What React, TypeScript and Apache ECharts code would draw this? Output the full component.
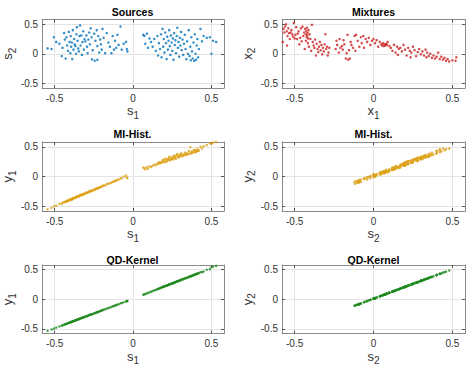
import React, { useEffect, useRef } from "react";
import * as echarts from "echarts";

// ---- Sources (s1, s2): left cluster then right cluster ----
const sourcesLeft: number[][] = [
  [-0.545, 0.09], [-0.52, 0.08], [-0.505, 0.28], [-0.49, 0.2], [-0.47, 0.17], [-0.455, -0.04], [-0.45, 0.1], [-0.44, 0.35],
  [-0.435, 0.24], [-0.43, -0.08], [-0.425, 0.28], [-0.42, 0.14], [-0.415, 0.05], [-0.41, 0.37], [-0.405, 0.2], [-0.4, 0.01],
  [-0.398, 0.3], [-0.395, 0.12], [-0.39, 0.19], [-0.388, -0.09], [-0.384, 0.4], [-0.38, 0.07], [-0.376, 0.25], [-0.372, 0.16],
  [-0.368, 0.13], [-0.364, 0], [-0.362, 0.33], [-0.358, 0.45], [-0.354, 0.22], [-0.35, 0.09], [-0.346, 0.04], [-0.342, 0.3],
  [-0.338, 0.48], [-0.335, 0.14], [-0.33, 0.31], [-0.326, -0.02], [-0.322, 0.2], [-0.318, 0.38], [-0.314, 0.07], [-0.31, 0.25],
  [-0.304, 0.21], [-0.298, 0.31], [-0.294, 0.12], [-0.29, 0.01], [-0.285, 0.24], [-0.28, 0.36], [-0.275, 0.16], [-0.27, 0.43],
  [-0.265, 0.28], [-0.258, 0.06], [-0.262, -0.095], [-0.248, 0.34], [-0.245, -0.118], [-0.24, 0.22], [-0.228, -0.102], [-0.232, 0.4],
  [-0.228, 0.13], [-0.222, 0.3], [-0.216, 0.02], [-0.21, 0.24], [-0.205, 0.16], [-0.2, 0.07], [-0.195, 0.42], [-0.188, 0.27],
  [-0.178, 0.01], [-0.168, 0.35], [-0.158, 0.19], [-0.148, 0.12], [-0.138, 0.01], [-0.13, 0.3], [-0.122, 0.07], [-0.115, 0.22],
  [-0.108, 0.1], [-0.1, 0.32], [-0.092, 0.15], [-0.08, 0.46], [-0.072, 0.07], [-0.06, 0.17], [-0.045, 0.2], [-0.04, 0.08],
  [-0.036, 0.04],
];
const sourcesRight: number[][] = [
  [0.065, 0.32], [0.072, 0.3], [0.078, 0.17], [0.088, 0.34], [0.095, 0.1], [0.105, 0.26], [0.115, 0.2], [0.125, 0.12],
  [0.135, 0.25], [0.145, 0.05], [0.155, 0.3], [0.16, -0.03], [0.165, 0.18], [0.172, 0.08], [0.178, 0.33], [0.182, -0.06],
  [0.188, 0.42], [0.192, 0.12], [0.196, 0.25], [0.2, 0.02], [0.205, 0.36], [0.21, 0.18], [0.214, -0.09], [0.218, 0.29],
  [0.222, 0.07], [0.226, 0.22], [0.23, 0.4], [0.234, 0.13], [0.238, -0.02], [0.242, 0.31], [0.246, 0.19], [0.25, 0.05],
  [0.254, 0.26], [0.258, -0.1], [0.262, 0.35], [0.266, 0.15], [0.27, 0.23], [0.274, 0.01], [0.278, 0.3], [0.282, 0.44],
  [0.286, 0.1], [0.29, 0.2], [0.294, -0.05], [0.298, 0.27], [0.302, 0.14], [0.306, 0.37], [0.31, 0.06], [0.315, 0.24],
  [0.32, -0.02], [0.325, 0.17], [0.33, 0.32], [0.335, 0.08], [0.34, -0.09], [0.345, 0.21], [0.35, 0.0], [0.355, 0.4],
  [0.36, -0.04], [0.365, 0.12], [0.368, -0.11], [0.372, 0.28], [0.376, 0.04], [0.38, -0.08], [0.385, 0.19], [0.39, -0.12],
  [0.394, 0.33], [0.398, 0.0], [0.402, -0.1], [0.406, 0.14], [0.41, 0.25], [0.415, -0.06], [0.42, 0.08], [0.43, 0.42],
  [0.44, 0.21], [0.45, 0.3], [0.47, 0.27], [0.49, 0.28], [0.51, 0.22], [0.53, 0.2], [0.5, 0.0],
];

// ---- Mixtures (x1, x2) ----
const mixtures: number[][] = [
  [-0.575, 0.2], [-0.57, 0.42], [-0.565, 0.36], [-0.56, 0.46], [-0.555, 0.5], [-0.55, 0.38], [-0.548, 0.14], [-0.545, 0.3],
  [-0.54, 0.43], [-0.535, 0.35], [-0.53, 0.25], [-0.525, 0.36], [-0.52, 0.4], [-0.515, 0.33], [-0.51, 0.29], [-0.505, 0.52],
  [-0.5, 0.26], [-0.495, 0.32], [-0.49, 0.45], [-0.485, 0.25], [-0.48, 0.34], [-0.475, 0.38], [-0.47, 0.16], [-0.465, 0.27],
  [-0.46, 0.43], [-0.455, 0.21], [-0.45, 0.46], [-0.445, 0.3], [-0.44, 0.36], [-0.436, 0.08], [-0.433, 0.42], [-0.43, 0.33],
  [-0.428, 0.22], [-0.426, 0.38], [-0.424, 0.28], [-0.422, 0.44], [-0.42, 0.31], [-0.418, 0.35], [-0.416, 0.18], [-0.414, 0.26],
  [-0.412, 0.4], [-0.41, 0.12], [-0.405, 0.33], [-0.4, 0.25], [-0.395, 0.05], [-0.39, 0.49], [-0.385, 0.2], [-0.38, 0.14],
  [-0.375, 0.1], [-0.37, 0.24], [-0.365, -0.03], [-0.36, 0.17], [-0.355, 0.08], [-0.35, 0.03], [-0.345, 0.12], [-0.34, 0.2],
  [-0.335, 0.06], [-0.33, 0.15], [-0.325, -0.01], [-0.32, 0.1], [-0.315, 0.04], [-0.31, 0.16], [-0.305, 0.33], [-0.3, 0.08],
  [-0.295, 0.12], [-0.29, -0.03], [-0.285, 0.02], [-0.28, 0.1],
  [-0.24, 0.08], [-0.235, 0.22], [-0.23, 0.15], [-0.22, 0.02], [-0.215, 0.25], [-0.21, 0.1], [-0.2, 0.13], [-0.195, 0.07],
  [-0.19, 0.23], [-0.185, 0.16], [-0.175, -0.08], [-0.17, 0.01], [-0.165, 0.32], [-0.16, -0.1], [-0.155, 0.06], [-0.15, -0.08],
  [-0.145, 0.2], [-0.14, 0.15], [-0.13, 0.1], [-0.12, 0.3], [-0.115, 0.05], [-0.11, 0.32], [-0.1, 0.22], [-0.09, 0.12],
  [-0.08, 0.28], [-0.075, 0.18], [-0.065, 0.3], [-0.06, 0.1], [-0.05, 0.25], [-0.04, 0.2], [-0.03, 0.27], [-0.02, 0.15],
  [-0.01, 0.22], [0, 0.25], [0.01, 0.18], [0.02, 0.23], [0.03, 0.12], [0.04, 0.2], [0.05, 0.16], [0.055, 0.14],
  [0.06, 0.18], [0.065, 0.13], [0.07, 0.16], [0.075, 0.14], [0.08, 0.17], [0.085, 0.15], [0.09, 0.2], [0.1, 0.13],
  [0.11, 0.1], [0.12, 0.05], [0.13, 0.15], [0.14, 0.02], [0.15, 0.12], [0.155, -0.02], [0.16, 0.08], [0.17, 0.1],
  [0.18, 0.04], [0.19, 0.15], [0.2, 0.07], [0.21, -0.03], [0.22, 0.1], [0.23, 0.05], [0.235, -0.06], [0.24, 0.02],
  [0.25, 0.12], [0.26, 0.06], [0.27, -0.04], [0.28, 0.03], [0.29, 0.08], [0.3, -0.01], [0.31, 0.04], [0.32, -0.03],
  [0.33, 0.07], [0.335, -0.06], [0.34, 0.02], [0.35, -0.04], [0.36, 0.0], [0.37, -0.07], [0.38, -0.03], [0.39, -0.08],
  [0.4, -0.05], [0.41, 0.02], [0.42, -0.09], [0.43, -0.05], [0.44, -0.1], [0.45, -0.07], [0.46, -0.12], [0.47, -0.09],
  [0.48, -0.13], [0.5, -0.11], [0.52, -0.12], [0.525, -0.06],
];

// ---- Estimates, index-matched to sources (left cluster then right cluster) ----
const y1MI: number[] = [
  -0.55, -0.53, -0.5, -0.49, -0.46, -0.46, -0.44, -0.43, -0.43, -0.425, -0.41, -0.415, -0.41, -0.39, -0.4, -0.395,
  -0.38, -0.385, -0.38, -0.385, -0.36, -0.37, -0.36, -0.36, -0.355, -0.355, -0.34, -0.335, -0.34, -0.335, -0.335, -0.32,
  -0.31, -0.32, -0.305, -0.315, -0.305, -0.29, -0.3, -0.29, -0.285, -0.27, -0.275, -0.275, -0.26, -0.25, -0.255, -0.235,
  -0.24, -0.237, -0.245, -0.215, -0.228, -0.212, -0.205, -0.195, -0.2, -0.19, -0.192, -0.178, -0.176, -0.172, -0.155, -0.153,
  -0.15, -0.128, -0.123, -0.114, -0.106, -0.088, -0.086, -0.074, -0.07, -0.055, -0.05, -0.03, -0.03, 0.0, 0.015, -0.02,
  -0.025,
  0.15, 0.14, 0.12, 0.16, 0.13, 0.17, 0.16, 0.18, 0.2, 0.19, 0.22, 0.21, 0.24, 0.22, 0.24, 0.23,
  0.27, 0.25, 0.28, 0.24, 0.3, 0.26, 0.25, 0.29, 0.28, 0.3, 0.33, 0.27, 0.28, 0.32, 0.3, 0.29,
  0.33, 0.29, 0.35, 0.31, 0.34, 0.3, 0.36, 0.38, 0.33, 0.34, 0.32, 0.37, 0.35, 0.39, 0.34, 0.37,
  0.35, 0.36, 0.4, 0.37, 0.36, 0.39, 0.38, 0.43, 0.38, 0.49, 0.39, 0.42, 0.4, 0.4, 0.44, 0.41,
  0.45, 0.42, 0.41, 0.43, 0.46, 0.43, 0.44, 0.5, 0.47, 0.51, 0.53, 0.56, 0.57, 0.58, 0.55,
];
const y2MI: number[] = [
  0.07, 0.07, 0.26, 0.19, 0.15, -0.05, 0.09, 0.33, 0.23, -0.09, 0.27, 0.13, 0.04, 0.36, 0.185, 0.0,
  0.29, 0.11, 0.18, -0.1, 0.39, 0.06, 0.24, 0.15, 0.12, -0.01, 0.32, 0.44, 0.21, 0.08, 0.03, 0.29,
  0.47, 0.13, 0.3, -0.03, 0.19, 0.37, 0.06, 0.24, 0.2, 0.3, 0.11, 0.0, 0.23, 0.35, 0.15, 0.42,
  0.27, 0.05, -0.1, 0.33, -0.12, 0.21, -0.11, 0.39, 0.12, 0.29, 0.02, 0.23, 0.15, 0.07, 0.41, 0.26,
  0.01, 0.34, 0.19, 0.12, 0.01, 0.3, 0.07, 0.22, 0.1, 0.32, 0.15, 0.46, 0.07, 0.17, 0.2, 0.08,
  0.05,
  0.33, 0.31, 0.18, 0.35, 0.11, 0.28, 0.22, 0.14, 0.27, 0.07, 0.32, -0.01, 0.2, 0.1, 0.35, -0.04,
  0.44, 0.14, 0.28, 0.04, 0.38, 0.2, -0.07, 0.31, 0.09, 0.25, 0.43, 0.15, 0.0, 0.34, 0.22, 0.07,
  0.29, -0.08, 0.38, 0.17, 0.26, 0.03, 0.33, 0.47, 0.12, 0.23, -0.03, 0.3, 0.17, 0.4, 0.09, 0.27,
  0.01, 0.2, 0.35, 0.11, -0.06, 0.24, 0.03, 0.43, -0.01, 0.15, -0.08, 0.31, 0.07, -0.05, 0.22, -0.09,
  0.36, 0.03, -0.07, 0.17, 0.28, -0.03, 0.11, 0.46, 0.25, 0.33, 0.3, 0.32, 0.26, 0.24, 0.04,
];
const y1QD: number[] = [
  -0.535, -0.512, -0.497, -0.48, -0.462, -0.447, -0.44, -0.43, -0.424, -0.422, -0.415, -0.41, -0.405, -0.398, -0.396, -0.392,
  -0.386, -0.386, -0.38, -0.38, -0.372, -0.371, -0.365, -0.363, -0.358, -0.356, -0.35, -0.345, -0.344, -0.341, -0.338, -0.33,
  -0.325, -0.326, -0.318, -0.318, -0.312, -0.305, -0.305, -0.299, -0.294, -0.287, -0.285, -0.283, -0.274, -0.267, -0.266, -0.257,
  -0.255, -0.25, -0.252, -0.237, -0.238, -0.23, -0.222, -0.22, -0.219, -0.211, -0.208, -0.2, -0.196, -0.192, -0.183, -0.177,
  -0.17, -0.157, -0.149, -0.14, -0.131, -0.12, -0.114, -0.105, -0.1, -0.09, -0.084, -0.069, -0.064, -0.051, -0.036, -0.033,
  -0.028,
  0.077, 0.084, 0.088, 0.102, 0.106, 0.119, 0.128, 0.138, 0.151, 0.158, 0.172, 0.172, 0.182, 0.187, 0.197, 0.196,
  0.21, 0.209, 0.215, 0.214, 0.226, 0.227, 0.228, 0.238, 0.238, 0.245, 0.252, 0.252, 0.254, 0.263, 0.265, 0.267,
  0.275, 0.273, 0.285, 0.285, 0.291, 0.292, 0.3, 0.306, 0.305, 0.312, 0.311, 0.321, 0.323, 0.331, 0.329, 0.338,
  0.337, 0.347, 0.355, 0.356, 0.358, 0.369, 0.369, 0.381, 0.379, 0.388, 0.386, 0.398, 0.397, 0.4, 0.41, 0.409,
  0.422, 0.42, 0.423, 0.43, 0.437, 0.436, 0.445, 0.458, 0.46, 0.47, 0.5, 0.51, 0.55, 0.565, 0.545,
];
const y2QD: number[] = [
  0.1, 0.088, 0.29, 0.207, 0.178, -0.032, 0.108, 0.358, 0.249, -0.072, 0.287, 0.149, 0.058, 0.378, 0.208, 0.018,
  0.31, 0.128, 0.2, -0.083, 0.408, 0.079, 0.258, 0.169, 0.139, 0.008, 0.339, 0.458, 0.229, 0.099, 0.048, 0.31,
  0.487, 0.148, 0.319, -0.012, 0.209, 0.39, 0.078, 0.259, 0.219, 0.318, 0.128, 0.018, 0.249, 0.368, 0.168, 0.438,
  0.289, 0.069, -0.087, 0.348, -0.108, 0.229, -0.093, 0.409, 0.139, 0.309, 0.028, 0.249, 0.169, 0.079, 0.428, 0.279,
  0.019, 0.358, 0.199, 0.129, 0.019, 0.309, 0.079, 0.229, 0.109, 0.329, 0.159, 0.468, 0.079, 0.179, 0.21, 0.089,
  0.049,
  0.331, 0.311, 0.181, 0.35, 0.111, 0.271, 0.21, 0.131, 0.262, 0.061, 0.311, -0.019, 0.191, 0.091, 0.342, -0.049,
  0.432, 0.131, 0.262, 0.031, 0.372, 0.19, -0.079, 0.301, 0.081, 0.231, 0.412, 0.142, -0.008, 0.321, 0.201, 0.061,
  0.272, -0.089, 0.362, 0.162, 0.241, 0.021, 0.312, 0.452, 0.111, 0.211, -0.039, 0.281, 0.152, 0.382, 0.071, 0.251,
  -0.009, 0.181, 0.332, 0.092, -0.079, 0.221, 0.011, 0.412, -0.029, 0.131, -0.099, 0.291, 0.051, -0.069, 0.201, -0.109,
  0.342, 0.012, -0.089, 0.151, 0.261, -0.049, 0.091, 0.432, 0.221, 0.311, 0.281, 0.292, 0.231, 0.211, 0.012,
];

const tickValues: number[] = [-0.5, 0, 0.5];
const titles: string[] = ["Sources", "Mixtures", "MI-Hist.", "MI-Hist.", "QD-Kernel", "QD-Kernel"];
const xNames: string[][] = [["s", "1"], ["x", "1"], ["s", "1"], ["s", "2"], ["s", "1"], ["s", "2"]];
const yNames: string[][] = [["s", "2"], ["x", "2"], ["y", "1"], ["y", "2"], ["y", "1"], ["y", "2"]];
const colors: string[] = ["#0072BD", "#CC1F1F", "#DDA015", "#DDA015", "#1E8A1E", "#1E8A1E"];

const FONT = "'Liberation Sans', Arial, Helvetica, sans-serif";
const LIM = 0.58;
const COL_LEFT = [41, 282];
const COL_W = 183;
const ROWS = [
  { top: 19.5, h: 68.5, titleY: 12 },
  { top: 142, h: 69, titleY: 133.5 },
  { top: 265, h: 68.5, titleY: 260 },
];
const BOX = "#8a8a8a";
const GRIDC = "#e4e4e4";
const TXT = "#333333";

export default function App() {
  const ref = useRef<HTMLDivElement>(null);
  useEffect(() => {
    if (!ref.current) return;
    const chart = echarts.init(ref.current, null, { renderer: "svg" });
    const srcAll = [...sourcesLeft, ...sourcesRight];
    const s1 = srcAll.map((p) => p[0]);
    const s2 = srcAll.map((p) => p[1]);
    const datasets: number[][][] = [
      srcAll,
      mixtures,
      s1.map((v, i) => [v, y1MI[i]]),
      s2.map((v, i) => [v, y2MI[i]]),
      s1.map((v, i) => [v, y1QD[i]]),
      s2.map((v, i) => [v, y2QD[i]]),
    ];
    const grids: any[] = [];
    const xAxes: any[] = [];
    const yAxes: any[] = [];
    const series: any[] = [];
    const graphics: any[] = [];
    const rich = {
      b: { fontSize: 13, fontFamily: FONT, color: TXT },
      s: { fontSize: 10, fontFamily: FONT, color: TXT, padding: [9, 0, 0, 0] },
    };
    for (let i = 0; i < 6; i++) {
      const r = ROWS[Math.floor(i / 2)];
      const left = COL_LEFT[i % 2];
      grids.push({ left, top: r.top, width: COL_W, height: r.h, show: false });
      const common = {
        type: "value",
        gridIndex: i,
        min: -LIM,
        max: LIM,
        axisLine: { show: true, onZero: false, lineStyle: { color: BOX, width: 1 } },
        axisTick: { show: true, inside: true, length: 3, customValues: tickValues, lineStyle: { color: "#555", width: 1 } },
      };
      xAxes.push({
        ...common,
        position: "bottom",
        axisLabel: { show: true, customValues: tickValues, color: TXT, fontSize: 10, fontFamily: FONT, margin: 5 },
        splitLine: { show: true, lineStyle: { color: GRIDC, width: 1 } },
        name: `{b|${xNames[i][0]}}{s|${xNames[i][1]}}`,
        nameLocation: "middle",
        nameGap: 13,
        nameTextStyle: { rich },
      });
      xAxes.push({ ...common, position: "top", axisLabel: { show: false }, splitLine: { show: false } });
      yAxes.push({
        ...common,
        position: "left",
        axisLabel: { show: true, customValues: tickValues, color: TXT, fontSize: 10, fontFamily: FONT, margin: 4 },
        splitLine: { show: true, lineStyle: { color: GRIDC, width: 1 } },
        name: `{b|${yNames[i][0]}}{s|${yNames[i][1]}}`,
        nameLocation: "middle",
        nameRotate: 90,
        nameGap: 23,
        nameTextStyle: { rich },
      });
      yAxes.push({ ...common, position: "right", axisLabel: { show: false }, splitLine: { show: false } });
      series.push({
        type: "scatter",
        xAxisIndex: 2 * i,
        yAxisIndex: 2 * i,
        data: datasets[i],
        symbol: "circle",
        symbolSize: 2.5,
        itemStyle: { color: colors[i] },
        silent: true,
      });
      graphics.push({
        type: "text",
        x: left + COL_W / 2,
        y: r.titleY,
        style: {
          text: titles[i],
          align: "center",
          verticalAlign: "middle",
          font: `bold 10.5px ${FONT}`,
          fill: "#000",
        },
      });
    }
    chart.setOption({
      animation: false,
      backgroundColor: "#ffffff",
      grid: grids,
      xAxis: xAxes,
      yAxis: yAxes,
      series,
      graphic: graphics,
    });
    return () => chart.dispose();
  }, []);
  return (
    <div
      ref={ref}
      style={{ position: "absolute", left: 0, top: 0, width: 474, height: 375, background: "#fff" }}
    />
  );
}
